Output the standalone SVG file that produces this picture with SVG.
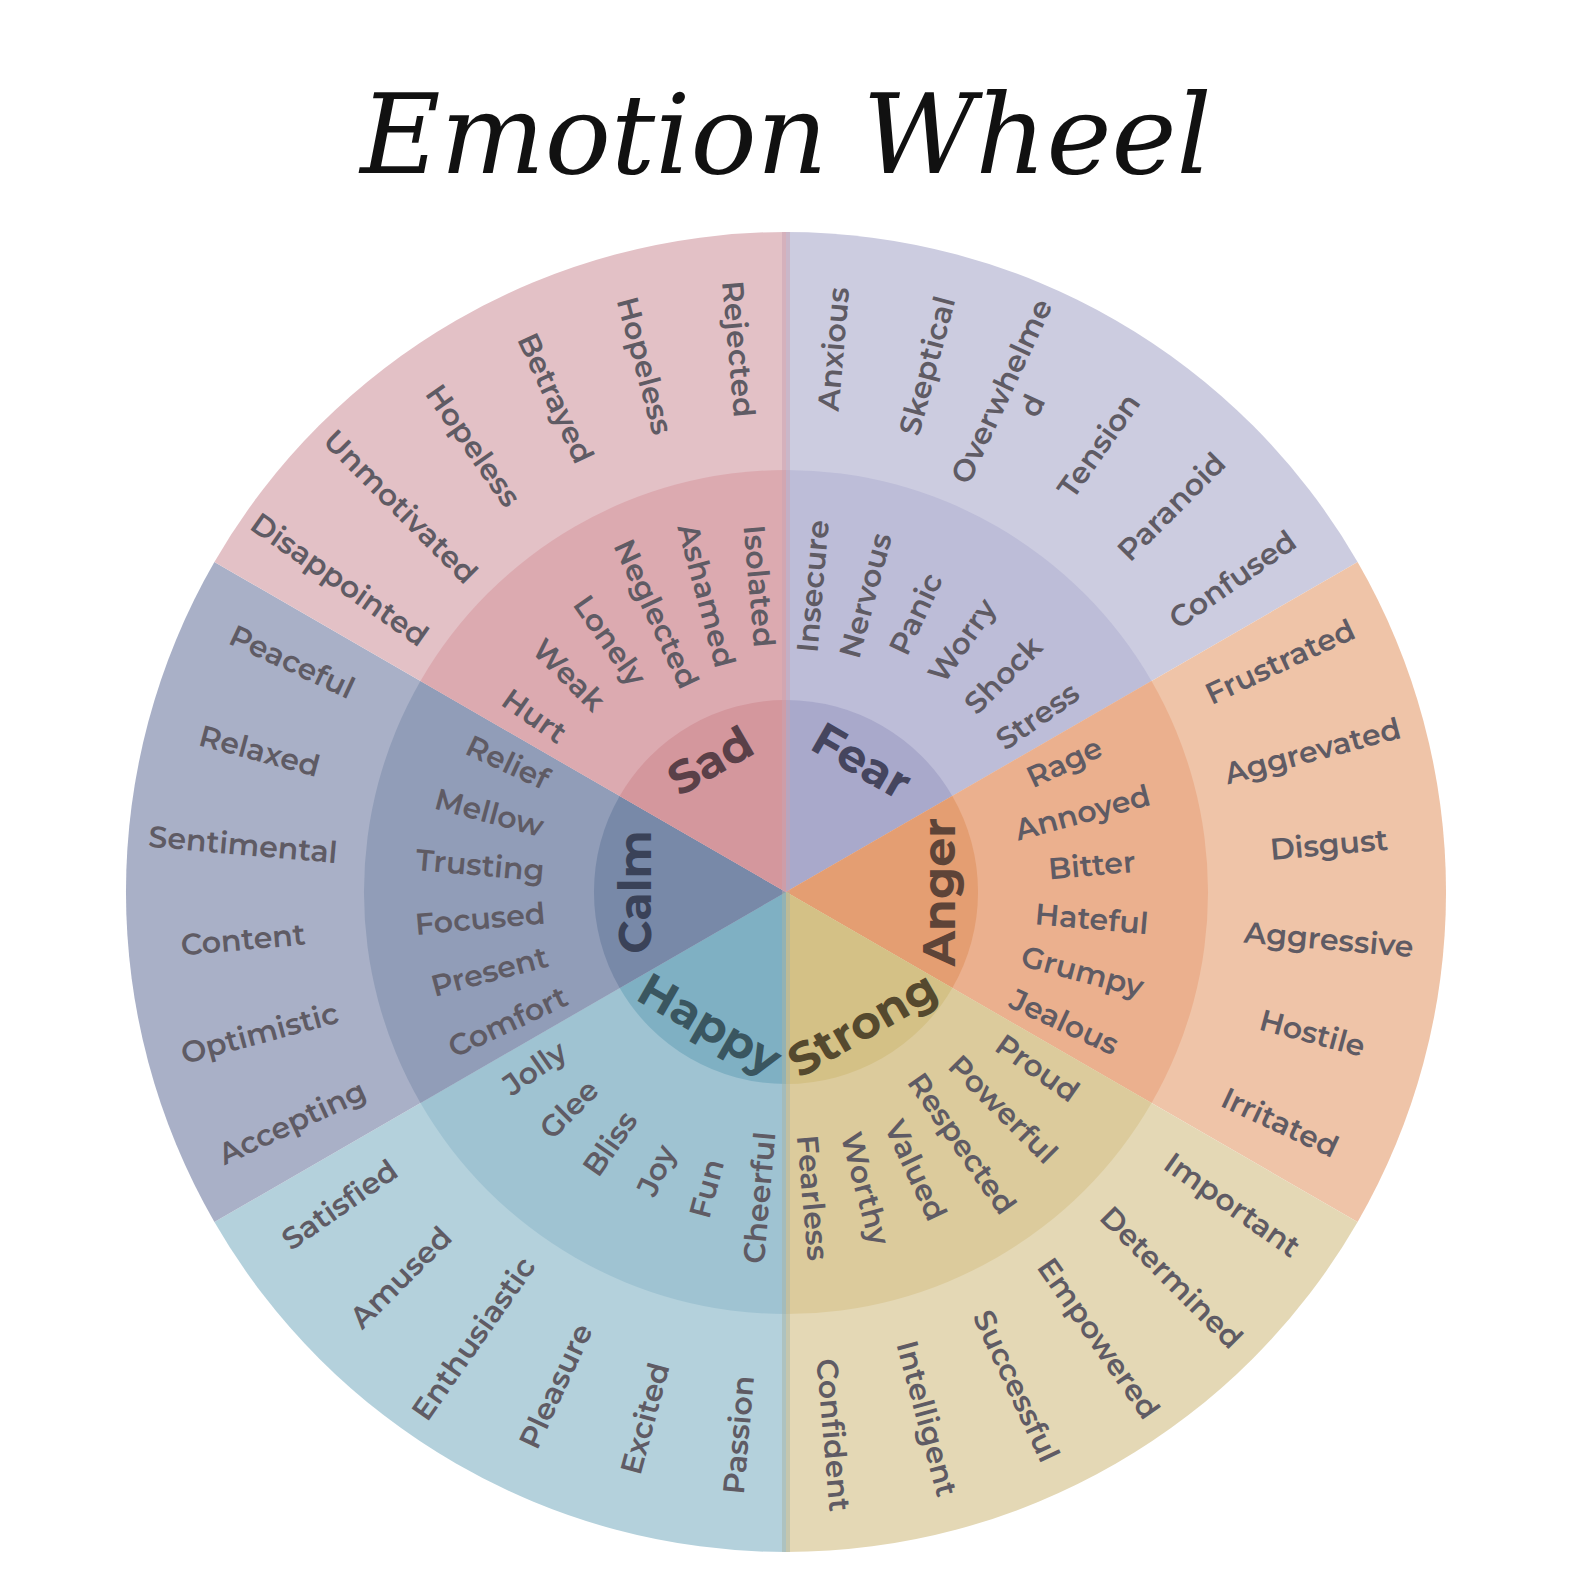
<svg xmlns="http://www.w3.org/2000/svg" width="1588" height="1588" viewBox="0 0 1588 1588">
<style>
text{font-family:"Montserrat","Open Sans","Liberation Sans",sans-serif;font-weight:700;text-anchor:middle;dominant-baseline:central}
.w{font-size:30px;fill:#5f5b64;font-weight:600}
.l{font-size:46px;font-weight:700}
.t{font-family:"DejaVu Serif","Liberation Serif",serif;font-style:italic;font-size:110px;font-weight:400;fill:#111}
</style>
<rect width="1588" height="1588" fill="#fff"/>
<text class="t" x="786" y="135">Emotion Wheel</text>
<g id="fear"><path d="M786 892L786 232A660 660 0 0 1 1357.6 562Z" fill="#cccce0"/><path d="M786 892L786 470A422 422 0 0 1 1151.5 681Z" fill="#bdbdd8"/><path d="M786 892L786 700A192 192 0 0 1 952.3 796Z" fill="#a9a9cb"/></g>
<g id="anger"><path d="M786 892L1357.6 562A660 660 0 0 1 1357.6 1222Z" fill="#efc4a8"/><path d="M786 892L1151.5 681A422 422 0 0 1 1151.5 1103Z" fill="#ebb08e"/><path d="M786 892L952.3 796A192 192 0 0 1 952.3 988Z" fill="#e49e72"/></g>
<g id="strong"><path d="M786 892L1357.6 1222A660 660 0 0 1 786 1552Z" fill="#e4d8b5"/><path d="M786 892L1151.5 1103A422 422 0 0 1 786 1314Z" fill="#dccb9c"/><path d="M786 892L952.3 988A192 192 0 0 1 786 1084Z" fill="#d4c186"/></g>
<g id="happy"><path d="M786 892L786 1552A660 660 0 0 1 214.4 1222Z" fill="#b4d1dc"/><path d="M786 892L786 1314A422 422 0 0 1 420.5 1103Z" fill="#9fc3d2"/><path d="M786 892L786 1084A192 192 0 0 1 619.7 988Z" fill="#7fb0c3"/></g>
<g id="calm"><path d="M786 892L214.4 1222A660 660 0 0 1 214.4 562Z" fill="#a9b0c7"/><path d="M786 892L420.5 1103A422 422 0 0 1 420.5 681Z" fill="#919db8"/><path d="M786 892L619.7 988A192 192 0 0 1 619.7 796Z" fill="#7889a8"/></g>
<g id="sad"><path d="M786 892L214.4 562A660 660 0 0 1 786 232Z" fill="#e3c1c6"/><path d="M786 892L420.5 681A422 422 0 0 1 786 470Z" fill="#dcaab0"/><path d="M786 892L619.7 796A192 192 0 0 1 786 700Z" fill="#d4979d"/></g>
<g id="connectors"><line x1="786" y1="232" x2="786" y2="892" stroke="#c9a3b3" stroke-width="8" opacity="0.5"/><line x1="786" y1="892" x2="786" y2="1552" stroke="#a8b5a6" stroke-width="8" opacity="0.5"/></g>
<g id="labels">
<text class="l" fill="#5a4048" transform="translate(786 892) rotate(240) translate(152 0) rotate(90)">Sad</text>
<text class="l" fill="#45455e" transform="translate(786 892) rotate(-60) translate(152 0) rotate(90)">Fear</text>
<text class="l" fill="#5e4438" transform="translate(786 892) translate(152 0) rotate(-90)">Anger</text>
<text class="l" fill="#3a4258" transform="translate(786 892) rotate(180) translate(152 0) rotate(90)">Calm</text>
<text class="l" fill="#3a5660" transform="translate(786 892) rotate(120) translate(152 0) rotate(-90)">Happy</text>
<text class="l" fill="#55492e" transform="translate(786 892) rotate(60) translate(152 0) rotate(-90)">Strong</text>
</g>
<g id="words-fear">
<text class="w" transform="translate(786 892) rotate(-85) translate(545 0)">Anxious</text>
<text class="w" transform="translate(786 892) rotate(-75) translate(545 0)">Skeptical</text>
<text class="w" transform="translate(786 892) rotate(-65) translate(545 0)"><tspan x="0" y="-17">Overwhelme</tspan><tspan x="0" y="17">d</tspan></text>
<text class="w" transform="translate(786 892) rotate(-55) translate(545 0)">Tension</text>
<text class="w" transform="translate(786 892) rotate(-45) translate(545 0)">Paranoid</text>
<text class="w" transform="translate(786 892) rotate(-35) translate(545 0)">Confused</text>
<text class="w" transform="translate(786 892) rotate(-85) translate(307 0)">Insecure</text>
<text class="w" transform="translate(786 892) rotate(-75) translate(307 0)">Nervous</text>
<text class="w" transform="translate(786 892) rotate(-65) translate(307 0)">Panic</text>
<text class="w" transform="translate(786 892) rotate(-55) translate(307 0)">Worry</text>
<text class="w" transform="translate(786 892) rotate(-45) translate(307 0)">Shock</text>
<text class="w" transform="translate(786 892) rotate(-35) translate(307 0)">Stress</text>
</g>
<g id="words-anger">
<text class="w" transform="translate(786 892) rotate(-25) translate(545 0)">Frustrated</text>
<text class="w" transform="translate(786 892) rotate(-15) translate(545 0)">Aggrevated</text>
<text class="w" transform="translate(786 892) rotate(-5) translate(545 0)">Disgust</text>
<text class="w" transform="translate(786 892) rotate(5) translate(545 0)">Aggressive</text>
<text class="w" transform="translate(786 892) rotate(15) translate(545 0)">Hostile</text>
<text class="w" transform="translate(786 892) rotate(25) translate(545 0)">Irritated</text>
<text class="w" transform="translate(786 892) rotate(-25) translate(307 0)">Rage</text>
<text class="w" transform="translate(786 892) rotate(-15) translate(307 0)">Annoyed</text>
<text class="w" transform="translate(786 892) rotate(-5) translate(307 0)">Bitter</text>
<text class="w" transform="translate(786 892) rotate(5) translate(307 0)">Hateful</text>
<text class="w" transform="translate(786 892) rotate(15) translate(307 0)">Grumpy</text>
<text class="w" transform="translate(786 892) rotate(25) translate(307 0)">Jealous</text>
</g>
<g id="words-strong">
<text class="w" transform="translate(786 892) rotate(35) translate(545 0)">Important</text>
<text class="w" transform="translate(786 892) rotate(45) translate(545 0)">Determined</text>
<text class="w" transform="translate(786 892) rotate(55) translate(545 0)">Empowered</text>
<text class="w" transform="translate(786 892) rotate(65) translate(545 0)">Successful</text>
<text class="w" transform="translate(786 892) rotate(75) translate(545 0)">Intelligent</text>
<text class="w" transform="translate(786 892) rotate(85) translate(545 0)">Confident</text>
<text class="w" transform="translate(786 892) rotate(35) translate(307 0)">Proud</text>
<text class="w" transform="translate(786 892) rotate(45) translate(307 0)">Powerful</text>
<text class="w" transform="translate(786 892) rotate(55) translate(307 0)">Respected</text>
<text class="w" transform="translate(786 892) rotate(65) translate(307 0)">Valued</text>
<text class="w" transform="translate(786 892) rotate(75) translate(307 0)">Worthy</text>
<text class="w" transform="translate(786 892) rotate(85) translate(307 0)">Fearless</text>
</g>
<g id="words-happy">
<text class="w" transform="translate(786 892) rotate(95) translate(545 0) rotate(180)">Passion</text>
<text class="w" transform="translate(786 892) rotate(105) translate(545 0) rotate(180)">Excited</text>
<text class="w" transform="translate(786 892) rotate(115) translate(545 0) rotate(180)">Pleasure</text>
<text class="w" transform="translate(786 892) rotate(125) translate(545 0) rotate(180)">Enthusiastic</text>
<text class="w" transform="translate(786 892) rotate(135) translate(545 0) rotate(180)">Amused</text>
<text class="w" transform="translate(786 892) rotate(145) translate(545 0) rotate(180)">Satisfied</text>
<text class="w" transform="translate(786 892) rotate(95) translate(307 0) rotate(180)">Cheerful</text>
<text class="w" transform="translate(786 892) rotate(105) translate(307 0) rotate(180)">Fun</text>
<text class="w" transform="translate(786 892) rotate(115) translate(307 0) rotate(180)">Joy</text>
<text class="w" transform="translate(786 892) rotate(125) translate(307 0) rotate(180)">Bliss</text>
<text class="w" transform="translate(786 892) rotate(135) translate(307 0) rotate(180)">Glee</text>
<text class="w" transform="translate(786 892) rotate(145) translate(307 0) rotate(180)">Jolly</text>
</g>
<g id="words-calm">
<text class="w" transform="translate(786 892) rotate(155) translate(545 0) rotate(180)">Accepting</text>
<text class="w" transform="translate(786 892) rotate(165) translate(545 0) rotate(180)">Optimistic</text>
<text class="w" transform="translate(786 892) rotate(175) translate(545 0) rotate(180)">Content</text>
<text class="w" transform="translate(786 892) rotate(185) translate(545 0) rotate(180)">Sentimental</text>
<text class="w" transform="translate(786 892) rotate(195) translate(545 0) rotate(180)">Relaxed</text>
<text class="w" transform="translate(786 892) rotate(205) translate(545 0) rotate(180)">Peaceful</text>
<text class="w" transform="translate(786 892) rotate(155) translate(307 0) rotate(180)">Comfort</text>
<text class="w" transform="translate(786 892) rotate(165) translate(307 0) rotate(180)">Present</text>
<text class="w" transform="translate(786 892) rotate(175) translate(307 0) rotate(180)">Focused</text>
<text class="w" transform="translate(786 892) rotate(185) translate(307 0) rotate(180)">Trusting</text>
<text class="w" transform="translate(786 892) rotate(195) translate(307 0) rotate(180)">Mellow</text>
<text class="w" transform="translate(786 892) rotate(205) translate(307 0) rotate(180)">Relief</text>
</g>
<g id="words-sad">
<text class="w" transform="translate(786 892) rotate(215) translate(545 0) rotate(180)">Disappointed</text>
<text class="w" transform="translate(786 892) rotate(225) translate(545 0) rotate(180)">Unmotivated</text>
<text class="w" transform="translate(786 892) rotate(235) translate(545 0) rotate(180)">Hopeless</text>
<text class="w" transform="translate(786 892) rotate(245) translate(545 0) rotate(180)">Betrayed</text>
<text class="w" transform="translate(786 892) rotate(255) translate(545 0) rotate(180)">Hopeless</text>
<text class="w" transform="translate(786 892) rotate(265) translate(545 0) rotate(180)">Rejected</text>
<text class="w" transform="translate(786 892) rotate(215) translate(307 0) rotate(180)">Hurt</text>
<text class="w" transform="translate(786 892) rotate(225) translate(307 0) rotate(180)">Weak</text>
<text class="w" transform="translate(786 892) rotate(235) translate(307 0) rotate(180)">Lonely</text>
<text class="w" transform="translate(786 892) rotate(245) translate(307 0) rotate(180)">Neglected</text>
<text class="w" transform="translate(786 892) rotate(255) translate(307 0) rotate(180)">Ashamed</text>
<text class="w" transform="translate(786 892) rotate(265) translate(307 0) rotate(180)">Isolated</text>
</g>
</svg>
